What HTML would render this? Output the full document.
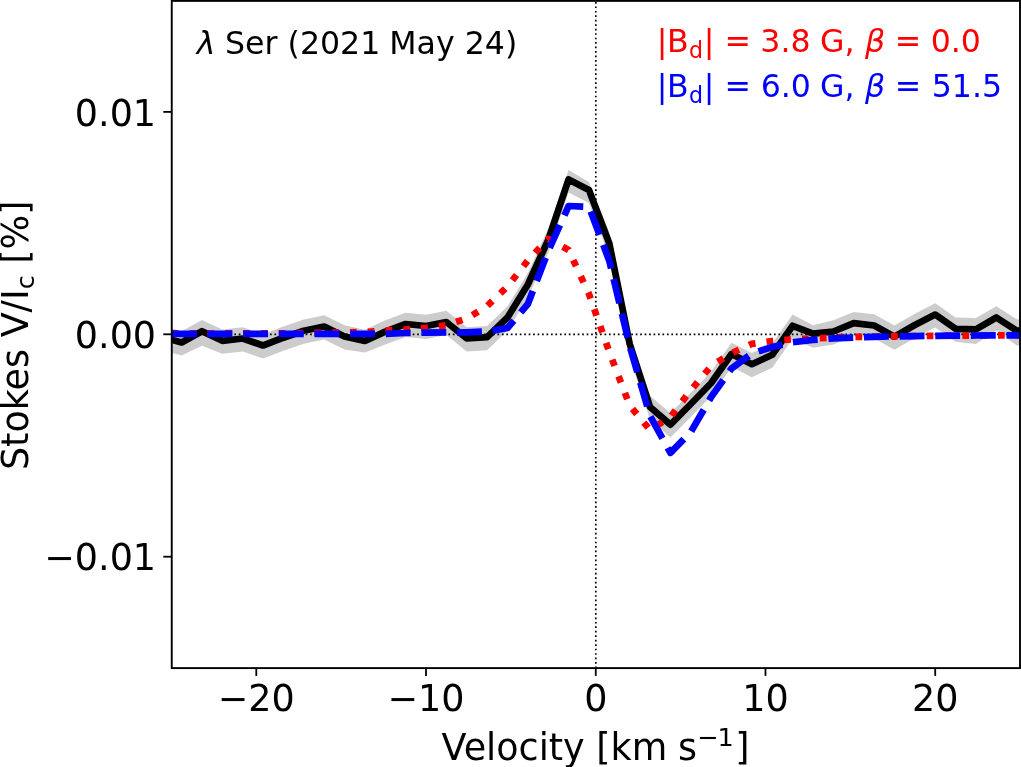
<!DOCTYPE html>
<html><head><meta charset="utf-8"><title>Stokes V profile</title>
<style>
html,body{margin:0;padding:0;background:#fff;}
body{width:1021px;height:767px;overflow:hidden;}
svg{display:block;}
text{font-family:'DejaVu Sans', 'Liberation Sans', sans-serif;}
</style></head>
<body>
<svg width="1021" height="767" viewBox="0 0 1021 767">
<defs><clipPath id="ax"><rect x="171.75" y="0.9" width="848.25" height="667.20"/></clipPath></defs>
<rect x="0" y="0" width="1021" height="767" fill="#fff"/>
<g clip-path="url(#ax)">
<polygon points="161.23,325.70 181.60,331.20 201.97,319.90 222.33,329.50 242.70,327.20 263.07,334.20 283.44,326.40 303.81,319.40 324.17,315.20 344.54,325.20 364.91,329.70 385.28,320.30 405.65,312.70 426.01,314.70 446.38,310.70 466.75,327.20 487.12,325.90 507.49,306.20 527.85,273.20 548.22,228.70 568.59,169.90 588.96,182.00 609.33,232.20 629.69,332.70 650.06,395.70 670.43,413.30 690.80,392.70 711.17,371.70 731.53,342.70 751.90,352.90 772.27,343.50 792.64,314.50 813.01,325.20 833.37,320.20 853.74,311.90 874.11,314.20 894.48,325.40 914.85,313.70 935.21,303.30 955.58,317.50 975.95,318.10 996.32,306.20 1016.69,319.30 1037.05,319.70 1037.05,344.00 1016.69,345.60 996.32,330.50 975.95,343.90 955.58,341.80 935.21,327.60 914.85,338.00 894.48,349.70 874.11,338.50 853.74,336.20 833.37,344.50 813.01,347.70 792.64,338.80 772.27,367.80 751.90,377.20 731.53,367.00 711.17,396.00 690.80,417.00 670.43,437.60 650.06,420.00 629.69,357.00 609.33,256.50 588.96,203.00 568.59,192.40 548.22,253.00 527.85,297.50 507.49,330.50 487.12,350.20 466.75,351.50 446.38,335.00 426.01,339.00 405.65,337.00 385.28,344.60 364.91,352.50 344.54,349.50 324.17,339.50 303.81,343.70 283.44,350.70 263.07,358.50 242.70,351.50 222.33,353.80 201.97,345.70 181.60,355.50 161.23,350.00" fill="#cccccc" stroke="none"/>
<line x1="171.75" y1="334.30" x2="1020.0" y2="334.30" stroke="#000" stroke-width="1.683" stroke-dasharray="1.683 2.777" stroke-dashoffset="4.335"/>
<line x1="595.82" y1="668.1" x2="595.82" y2="0.9" stroke="#000" stroke-width="1.683" stroke-dasharray="1.683 2.777" stroke-dashoffset="0.095"/>
<polyline points="161.23,337.00 181.60,342.50 201.97,331.20 222.33,340.80 242.70,338.50 263.07,345.50 283.44,337.70 303.81,330.70 324.17,326.50 344.54,336.50 364.91,341.00 385.28,331.60 405.65,324.00 426.01,326.00 446.38,322.00 466.75,338.50 487.12,337.20 507.49,317.50 527.85,284.50 548.22,240.00 568.59,179.40 588.96,190.00 609.33,243.50 629.69,344.00 650.06,407.00 670.43,424.60 690.80,404.00 711.17,383.00 731.53,354.00 751.90,364.20 772.27,354.80 792.64,325.80 813.01,333.70 833.37,331.50 853.74,323.20 874.11,325.50 894.48,336.70 914.85,325.00 935.21,314.60 955.58,328.80 975.95,329.40 996.32,317.50 1016.69,330.60 1037.05,331.00" fill="none" stroke="#000" stroke-width="6.725" stroke-linejoin="round" stroke-linecap="square"/>
<polyline points="161.23,333.30 181.60,333.30 201.97,333.30 222.33,333.30 242.70,333.30 263.07,333.30 283.44,333.30 303.81,333.00 324.17,332.80 344.54,332.50 364.91,332.00 385.28,330.50 405.65,329.50 426.01,327.80 446.38,325.30 466.75,318.50 487.12,306.00 507.49,286.50 527.85,260.50 548.22,238.90 568.59,250.00 588.96,294.00 609.33,352.00 629.69,405.50 650.06,430.00 670.43,416.90 690.80,390.20 711.17,366.00 731.53,353.10 751.90,343.80 772.27,341.00 792.64,339.30 813.01,338.30 833.37,337.50 853.74,337.00 874.11,336.60 894.48,336.30 914.85,336.00 935.21,335.80 955.58,335.60 975.95,335.50 996.32,335.40 1016.69,335.30 1037.05,335.30" fill="none" stroke="#ff0000" stroke-width="6.725" stroke-linejoin="round" stroke-dasharray="6.725 11.096" stroke-dashoffset="7.26"/>
<polyline points="161.23,333.80 181.60,333.80 201.97,333.80 222.33,333.80 242.70,333.80 263.07,333.80 283.44,333.80 303.81,333.80 324.17,333.80 344.54,333.80 364.91,333.80 385.28,333.80 405.65,333.00 426.01,332.60 446.38,332.30 466.75,332.30 487.12,331.50 507.49,328.00 527.85,304.00 548.22,251.00 568.59,206.00 588.96,206.80 609.33,261.00 629.69,346.00 650.06,416.00 670.43,452.80 690.80,432.00 711.17,397.00 731.53,368.50 751.90,353.50 772.27,347.00 792.64,342.30 813.01,339.90 833.37,338.30 853.74,337.50 874.11,336.80 894.48,336.40 914.85,336.10 935.21,335.80 955.58,335.60 975.95,335.50 996.32,335.40 1016.69,335.30 1037.05,335.30" fill="none" stroke="#0000ff" stroke-width="6.725" stroke-linejoin="round" stroke-dasharray="24.883 10.760" stroke-dashoffset="24.96"/>
</g>
<rect x="171.75" y="0.9" width="848.25" height="667.20" fill="none" stroke="#000" stroke-width="1.9"/>
<g stroke="#000" stroke-width="1.8">
<line x1="256.29" y1="668.10" x2="256.29" y2="675.90"/>
<line x1="426.02" y1="668.10" x2="426.02" y2="675.90"/>
<line x1="595.75" y1="668.10" x2="595.75" y2="675.90"/>
<line x1="765.48" y1="668.10" x2="765.48" y2="675.90"/>
<line x1="935.21" y1="668.10" x2="935.21" y2="675.90"/>
<line x1="163.30" y1="111.90" x2="171.75" y2="111.90"/>
<line x1="163.30" y1="334.30" x2="171.75" y2="334.30"/>
<line x1="163.30" y1="556.70" x2="171.75" y2="556.70"/>
</g>
<g font-size="36.5" fill="#000">
<text x="256.29" y="711.40" text-anchor="middle">−20</text>
<text x="426.02" y="711.40" text-anchor="middle">−10</text>
<text x="595.75" y="711.40" text-anchor="middle">0</text>
<text x="765.48" y="711.40" text-anchor="middle">10</text>
<text x="935.21" y="711.40" text-anchor="middle">20</text>
<text x="156.10" y="125.50" text-anchor="end">0.01</text>
<text x="156.10" y="347.90" text-anchor="end">0.00</text>
<text x="156.10" y="570.30" text-anchor="end">−0.01</text>
<text x="441.50" y="759.60" font-size="36.50" fill="#000">Velocity [km</text>
<text x="678.10" y="759.60" font-size="36.50" fill="#000">s</text>
<text x="697.00" y="746.10" font-size="25.55" fill="#000">−</text>
<text x="717.50" y="746.10" font-size="25.55" fill="#000">1</text>
<text x="735.30" y="759.60" font-size="36.50" fill="#000">]</text>
<text transform="translate(28,335.3) rotate(-90)" text-anchor="middle">Stokes V/I<tspan dy="6" font-size="25.5">c</tspan><tspan dy="-6"> [%]</tspan></text>
</g>
<text x="196.80" y="53.90" font-size="31.60" font-style="italic" fill="#000">λ</text>
<text x="225.00" y="53.90" font-size="31.60" fill="#000">Ser</text>
<text x="287.60" y="53.90" font-size="31.60" fill="#000">(2021</text>
<text x="389.30" y="53.90" font-size="31.60" fill="#000">May</text>
<text x="464.70" y="53.90" font-size="31.60" fill="#000">24)</text>
<text x="656.70" y="52.40" font-size="31.60" fill="#ff0000">|</text>
<text x="666.95" y="52.40" font-size="31.60" fill="#ff0000">B</text>
<text x="689.10" y="58.00" font-size="22.12" fill="#ff0000">d</text>
<text x="703.80" y="52.40" font-size="31.60" fill="#ff0000">|</text>
<text x="724.45" y="52.40" font-size="31.60" fill="#ff0000">=</text>
<text x="760.30" y="52.40" font-size="31.60" fill="#ff0000">3.8</text>
<text x="820.00" y="52.40" font-size="31.60" fill="#ff0000">G,</text>
<text x="864.90" y="52.40" font-size="31.60" font-style="italic" fill="#ff0000">β</text>
<text x="894.80" y="52.40" font-size="31.60" fill="#ff0000">=</text>
<text x="930.70" y="52.40" font-size="31.60" fill="#ff0000">0.0</text>
<text x="656.70" y="96.90" font-size="31.60" fill="#0000ff">|</text>
<text x="666.95" y="96.90" font-size="31.60" fill="#0000ff">B</text>
<text x="689.10" y="102.50" font-size="22.12" fill="#0000ff">d</text>
<text x="703.80" y="96.90" font-size="31.60" fill="#0000ff">|</text>
<text x="724.45" y="96.90" font-size="31.60" fill="#0000ff">=</text>
<text x="760.70" y="96.90" font-size="31.60" fill="#0000ff">6.0</text>
<text x="820.00" y="96.90" font-size="31.60" fill="#0000ff">G,</text>
<text x="864.90" y="96.90" font-size="31.60" font-style="italic" fill="#0000ff">β</text>
<text x="894.80" y="96.90" font-size="31.60" fill="#0000ff">=</text>
<text x="931.70" y="96.90" font-size="31.60" fill="#0000ff">51.5</text>
</svg>
</body></html>
